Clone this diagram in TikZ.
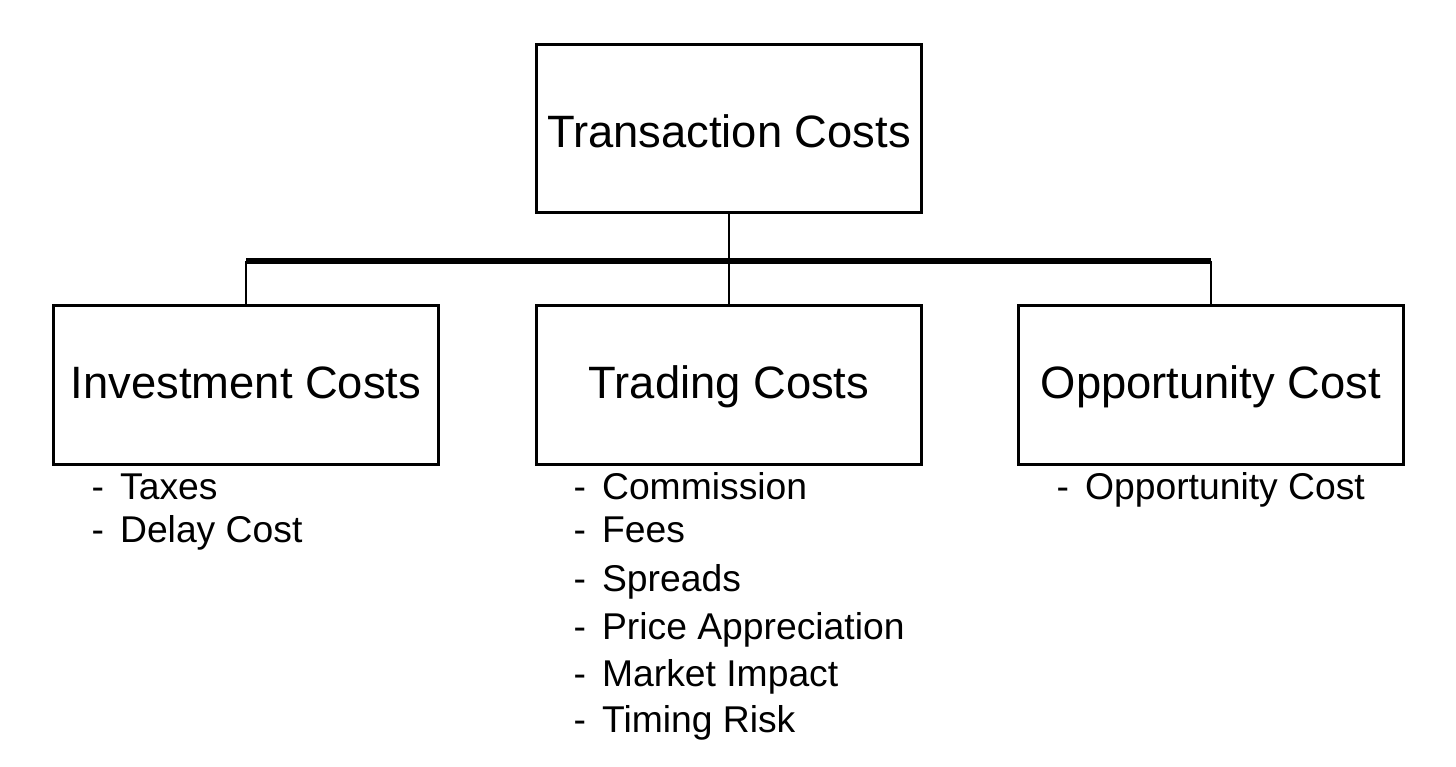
\documentclass[tikz,border=0pt]{standalone}
\usepackage{fontspec}
\setmainfont{Liberation Sans}
\tikzset{
  costbox/.style={draw, line width=0.85pt, minimum width=3.84cm, minimum height=1.58cm, inner sep=0pt, text height=0.36cm, text depth=0.10cm, font=\fontsize{12.9}{15}\selectfont},
  item/.style={anchor=base west, inner sep=0pt, font=\fontsize{10.6}{12}\selectfont},
}
\newcommand{\itm}[1]{-\hspace{0.16cm}#1}
\begin{document}
\begin{tikzpicture}[x=0.01cm, y=-0.01cm]
\useasboundingbox (0,0) rectangle (1456,767);
\node[costbox, minimum height=1.67cm, text height=0.47cm] (tc) at (729,128.5) {Transaction Costs};
\node[costbox] (inv) at (246,385) {Investment Costs};
\node[costbox] (trd) at (729,385) {Trading Costs};
\node[costbox] (opp) at (1211,385) {Opportunity Cost};

\coordinate (busL) at (246,261);
\coordinate (busM) at (729,261);
\coordinate (busR) at (1211,261);

\path[draw,line width=0.7pt,-] (tc.south) -- (busM);
\path[draw,line width=1.45pt,-] (busL) -- (busR);
\path[draw,line width=0.7pt,-] (busL) -- (inv.north);
\path[draw,line width=0.7pt,-] (busM) -- (trd.north);
\path[draw,line width=0.7pt,-] (busR) -- (opp.north);

\node[item] (inv1) at (91,500) {\itm{Taxes}};
\node[item] (inv2) at (91,543) {\itm{Delay Cost}};

\node[item] (trd1) at (573,500) {\itm{Commission}};
\node[item] (trd2) at (573,543) {\itm{Fees}};
\node[item] (trd3) at (573,592) {\itm{Spreads}};
\node[item] (trd4) at (573,640) {\itm{Price Appreciation}};
\node[item] (trd5) at (573,687) {\itm{Market Impact}};
\node[item] (trd6) at (573,733) {\itm{Timing Risk}};

\node[item] (opp1) at (1056,500) {\itm{Opportunity Cost}};
\end{tikzpicture}
\end{document}
